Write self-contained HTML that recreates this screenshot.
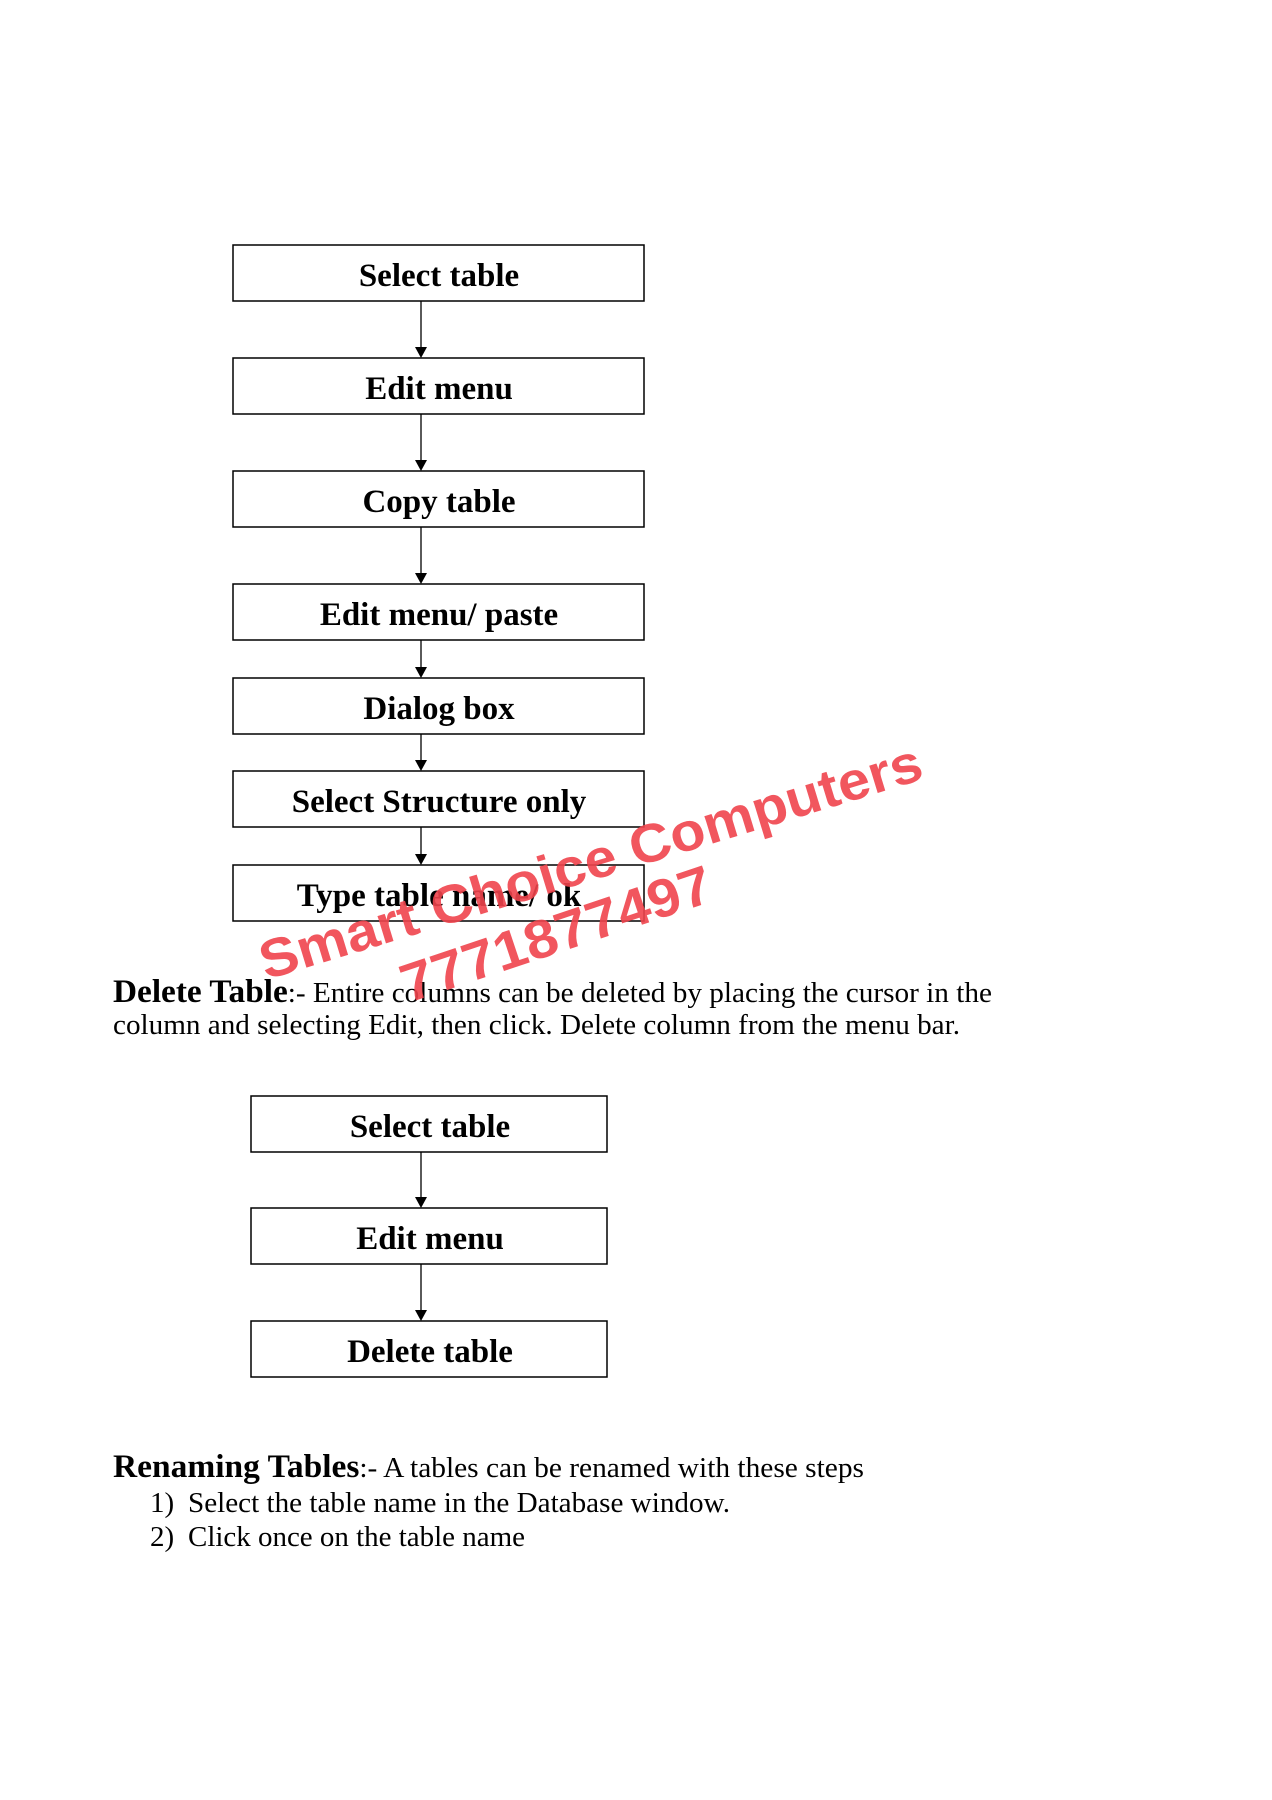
<!DOCTYPE html>
<html><head><meta charset="utf-8"><style>
html,body{margin:0;padding:0;background:#fff;}
svg{display:block;}
.bx{fill:#fff;stroke:#000;stroke-width:1.5;}
.bt{font-family:"Liberation Serif",serif;font-weight:bold;font-size:33px;text-anchor:middle;fill:#000;}
.tx{font-family:"Liberation Serif",serif;font-size:29px;fill:#000;}
.ln{stroke:#000;stroke-width:1.3;}
.wm{font-family:"Liberation Sans",sans-serif;font-weight:bold;font-size:54px;fill:#f0444c;fill-opacity:0.9;}
</style></head><body>
<svg width="1272" height="1800" viewBox="0 0 1272 1800" xmlns="http://www.w3.org/2000/svg">
<g>
<rect class="bx" x="233" y="245" width="411" height="56"/>
<text class="bt" x="439" y="286">Select table</text>
<line class="ln" x1="421" y1="301" x2="421" y2="349"/><polygon points="415,347 427,347 421,358"/>
<rect class="bx" x="233" y="358" width="411" height="56"/>
<text class="bt" x="439" y="399">Edit menu</text>
<line class="ln" x1="421" y1="414" x2="421" y2="462"/><polygon points="415,460 427,460 421,471"/>
<rect class="bx" x="233" y="471" width="411" height="56"/>
<text class="bt" x="439" y="512">Copy table</text>
<line class="ln" x1="421" y1="527" x2="421" y2="575"/><polygon points="415,573 427,573 421,584"/>
<rect class="bx" x="233" y="584" width="411" height="56"/>
<text class="bt" x="439" y="625">Edit menu/ paste</text>
<line class="ln" x1="421" y1="640" x2="421" y2="669"/><polygon points="415,667 427,667 421,678"/>
<rect class="bx" x="233" y="678" width="411" height="56"/>
<text class="bt" x="439" y="719">Dialog box</text>
<line class="ln" x1="421" y1="734" x2="421" y2="762"/><polygon points="415,760 427,760 421,771"/>
<rect class="bx" x="233" y="771" width="411" height="56"/>
<text class="bt" x="439" y="812">Select Structure only</text>
<line class="ln" x1="421" y1="827" x2="421" y2="856"/><polygon points="415,854 427,854 421,865"/>
<rect class="bx" x="233" y="865" width="411" height="56"/>
<text class="bt" x="439" y="906">Type table name/ ok</text>
</g>
<text class="tx" x="113" y="1002" textLength="879" lengthAdjust="spacingAndGlyphs"><tspan font-weight="bold" font-size="33">Delete Table</tspan>:- Entire columns can be deleted by placing the cursor in the</text>
<text class="tx" x="113" y="1034" textLength="847" lengthAdjust="spacingAndGlyphs">column and selecting Edit, then click. Delete column from the menu bar.</text>
<rect class="bx" x="251" y="1096" width="356" height="56"/>
<text class="bt" x="430" y="1137">Select table</text>
<line class="ln" x1="421" y1="1152" x2="421" y2="1199"/><polygon points="415,1197 427,1197 421,1208"/>
<rect class="bx" x="251" y="1208" width="356" height="56"/>
<text class="bt" x="430" y="1249">Edit menu</text>
<line class="ln" x1="421" y1="1264" x2="421" y2="1312"/><polygon points="415,1310 427,1310 421,1321"/>
<rect class="bx" x="251" y="1321" width="356" height="56"/>
<text class="bt" x="430" y="1362">Delete table</text>
<text class="tx" x="113" y="1477" textLength="751" lengthAdjust="spacingAndGlyphs"><tspan font-weight="bold" font-size="33">Renaming Tables</tspan>:- A tables can be renamed with these steps</text>
<text class="tx" x="150" y="1512">1)</text><text class="tx" x="188" y="1512" textLength="542" lengthAdjust="spacingAndGlyphs">Select the table name in the Database window.</text>
<text class="tx" x="150" y="1546">2)</text><text class="tx" x="188" y="1546" textLength="337" lengthAdjust="spacingAndGlyphs">Click once on the table name</text>
<text class="wm" transform="translate(266,980) rotate(-17)" textLength="690" lengthAdjust="spacingAndGlyphs">Smart Choice Computers</text>
<text class="wm" transform="translate(408,1003) rotate(-18.5)" textLength="325" lengthAdjust="spacingAndGlyphs">7771877497</text>
</svg>
</body></html>
